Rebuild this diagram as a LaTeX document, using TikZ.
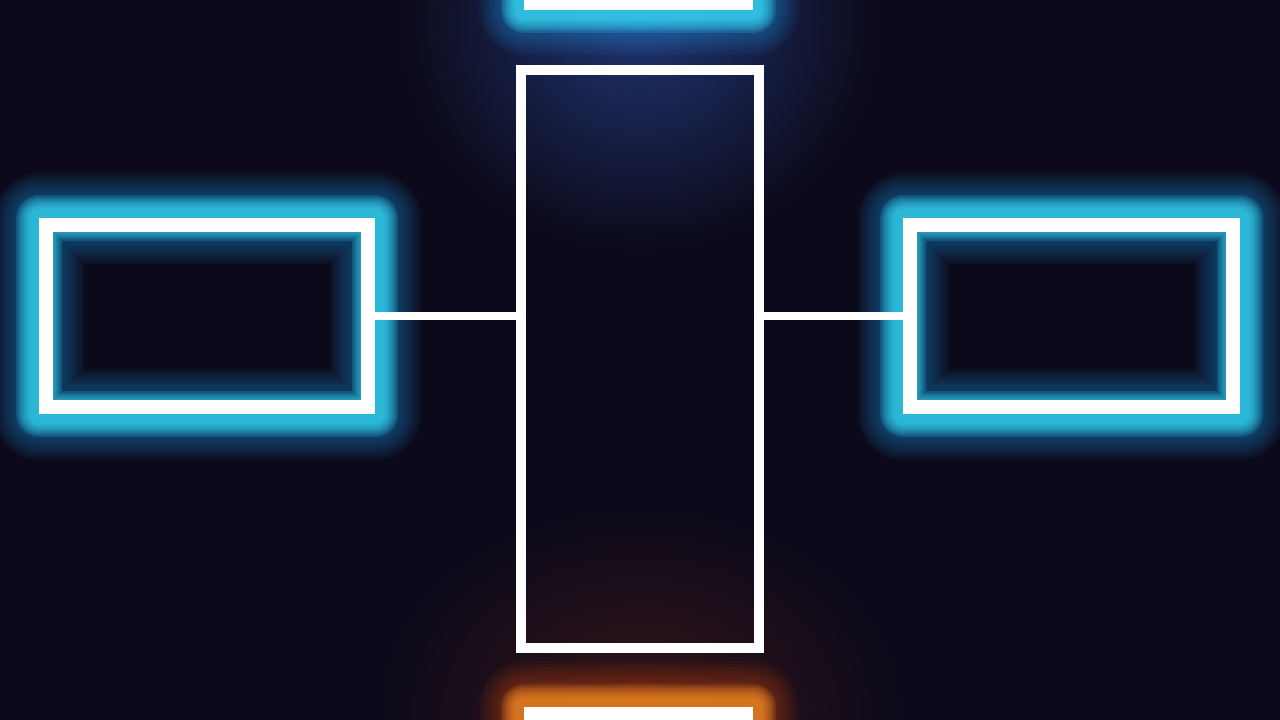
\documentclass[tikz,border=0pt]{standalone}
\usepackage{tikz}
\usetikzlibrary{positioning,backgrounds}
\definecolor{bgnavy}{RGB}{12,10,26}
\definecolor{glowcyan}{RGB}{60,232,255}
\definecolor{glowblue}{RGB}{30,140,215}
\definecolor{glowtop}{RGB}{32,52,112}
\definecolor{glowamber}{RGB}{255,150,40}
\definecolor{glowrust}{RGB}{190,70,20}
\definecolor{glowbottom}{RGB}{52,20,24}
\tikzstyle{panel} = [rectangle, draw=white, inner sep=0pt, line width=0.1cm]
\tikzstyle{neonbox} = [rectangle, draw=white, inner sep=0pt, line width=0.14cm]
\tikzstyle{wire} = [white, line width=0.08cm]
\tikzstyle{halo} = [line join=round, opacity=0.06]

\begin{document}
\begin{tikzpicture}
    \useasboundingbox (0,0) rectangle (12.8,7.2);
    \clip (0,0) rectangle (12.8,7.2);

    % Central panel
    \node[panel, minimum width=2.38cm, minimum height=5.78cm] (center) at (6.4, 3.61) {};

    % Neon boxes
    \node[neonbox, minimum width=3.22cm, minimum height=1.82cm] (leftbox) at (2.07, 4.035) {};
    \node[neonbox, minimum width=3.23cm, minimum height=1.82cm] (rightbox) at (10.715, 4.035) {};
    \node[neonbox, minimum width=2.15cm, minimum height=1.8cm] (topbox) at (6.385, 8.07) {};
    \node[neonbox, minimum width=2.15cm, minimum height=1.8cm] (bottombox) at (6.385, -0.84) {};

    % Connections
    \draw[wire] (leftbox.east) -- (leftbox.east -| center.west);
    \draw[wire] (rightbox.west) -- (rightbox.west -| center.east);

    \begin{pgfonlayer}{background}
        \fill[bgnavy] (0,0) rectangle (12.8,7.2);
        % Ambient light
        \shade[inner color=glowtop, outer color=bgnavy] (6.4, 7.0) ellipse (2.4cm and 2.3cm);
        \shade[inner color=glowbottom, outer color=bgnavy] (6.4, 0.1) ellipse (2.6cm and 2.0cm);

        % Halos
        \foreach \i in {1,...,14} {
            \pgfmathsetmacro{\wd}{0.14 + 0.055*\i}
            \draw[halo, glowblue, line width=\wd cm]
                (leftbox.south west) rectangle (leftbox.north east);
            \draw[halo, glowblue, line width=\wd cm]
                (rightbox.south west) rectangle (rightbox.north east);
            \draw[halo, glowblue, line width=\wd cm]
                (topbox.south west) rectangle (topbox.north east);
            \draw[halo, glowrust, line width=\wd cm]
                (bottombox.south west) rectangle (bottombox.north east);
        }
        \foreach \i in {1,...,8} {
            \pgfmathsetmacro{\wd}{0.14 + 0.04*\i}
            \draw[halo, opacity=0.14, glowcyan, line width=\wd cm]
                (leftbox.south west) rectangle (leftbox.north east);
            \draw[halo, opacity=0.14, glowcyan, line width=\wd cm]
                (rightbox.south west) rectangle (rightbox.north east);
            \draw[halo, opacity=0.14, glowcyan, line width=\wd cm]
                (topbox.south west) rectangle (topbox.north east);
            \draw[halo, opacity=0.14, glowamber, line width=\wd cm]
                (bottombox.south west) rectangle (bottombox.north east);
        }
    \end{pgfonlayer}
\end{tikzpicture}
\end{document}
